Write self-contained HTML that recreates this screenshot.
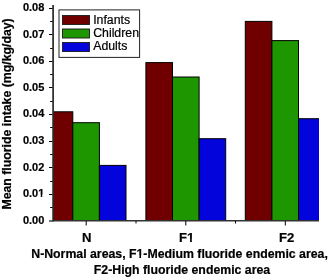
<!DOCTYPE html>
<html><head><meta charset="utf-8">
<style>
html,body{margin:0;padding:0;background:#fff;}
body{width:332px;height:277px;overflow:hidden;position:relative;}
svg{position:absolute;left:0;top:0;}
text{font-family:"Liberation Sans",Arial,sans-serif;font-weight:bold;fill:#000;stroke:#000;stroke-width:0.2;}
</style></head><body>
<svg width="332" height="277" viewBox="0 0 332 277">
<defs><clipPath id="pc"><rect x="53" y="0" width="266" height="221"/></clipPath></defs>
<g clip-path="url(#pc)" stroke="#000" stroke-width="1">
<rect x="46.2" y="111.8" width="26.6" height="109.2" fill="#700000"/>
<rect x="72.8" y="122.7" width="26.6" height="98.3" fill="#1e9600"/>
<rect x="99.4" y="165.4" width="26.6" height="55.6" fill="#0303dc"/>
<rect x="145.9" y="62.6" width="26.6" height="158.4" fill="#700000"/>
<rect x="172.5" y="77.0" width="26.6" height="144.0" fill="#1e9600"/>
<rect x="199.1" y="138.7" width="26.6" height="82.3" fill="#0303dc"/>
<rect x="245.3" y="21.4" width="26.6" height="199.6" fill="#700000"/>
<rect x="271.9" y="40.6" width="26.6" height="180.4" fill="#1e9600"/>
<rect x="298.5" y="118.7" width="26.6" height="102.3" fill="#0303dc"/>
</g>
<g stroke="#000" stroke-width="1.4" fill="none">
<line x1="53.1" y1="5" x2="53.1" y2="221.6" stroke-width="1.7" stroke="#2a2a2a"/>
<line x1="52.5" y1="220.8" x2="319" y2="220.8" stroke-width="1.6" stroke="#333"/>
</g>
<g stroke="#000" stroke-width="1">
<line x1="49" y1="8.5" x2="52.5" y2="8.5"/>
<line x1="50.2" y1="21.5" x2="52.5" y2="21.5"/>
<line x1="49" y1="34.5" x2="52.5" y2="34.5"/>
<line x1="50.2" y1="48.5" x2="52.5" y2="48.5"/>
<line x1="49" y1="61.5" x2="52.5" y2="61.5"/>
<line x1="50.2" y1="74.5" x2="52.5" y2="74.5"/>
<line x1="49" y1="87.5" x2="52.5" y2="87.5"/>
<line x1="50.2" y1="101.5" x2="52.5" y2="101.5"/>
<line x1="49" y1="114.5" x2="52.5" y2="114.5"/>
<line x1="50.2" y1="127.5" x2="52.5" y2="127.5"/>
<line x1="49" y1="141.5" x2="52.5" y2="141.5"/>
<line x1="50.2" y1="154.5" x2="52.5" y2="154.5"/>
<line x1="49" y1="167.5" x2="52.5" y2="167.5"/>
<line x1="50.2" y1="181.5" x2="52.5" y2="181.5"/>
<line x1="49" y1="194.5" x2="52.5" y2="194.5"/>
<line x1="50.2" y1="207.5" x2="52.5" y2="207.5"/>
<line x1="49" y1="221" x2="52.5" y2="221" stroke-width="1.1"/>
<line x1="86.2" y1="221" x2="86.2" y2="225.5"/>
<line x1="185.8" y1="221" x2="185.8" y2="225.5"/>
<line x1="285.3" y1="221" x2="285.3" y2="225.5"/>
<line x1="136" y1="221" x2="136" y2="223.5"/>
<line x1="235.5" y1="221" x2="235.5" y2="223.5"/>
</g>
<rect x="59" y="9.9" width="80.6" height="47.5" fill="#fff" stroke="#222" stroke-width="1"/>
<rect x="62.5" y="15.5" width="27" height="9" fill="#700000" stroke="#1a1a1a" stroke-width="0.9"/>
<rect x="62.5" y="29" width="27" height="9" fill="#1e9600" stroke="#1a1a1a" stroke-width="0.9"/>
<rect x="62.5" y="42.5" width="27" height="9" fill="#0303dc" stroke="#1a1a1a" stroke-width="0.9"/>
<g style="font-size:12.3px;font-weight:normal;stroke:#000;stroke-width:0.3">
<text x="93.2" y="24.1" style="font-weight:normal">Infants</text>
<text x="93.2" y="37.4" style="font-weight:normal">Children</text>
<text x="93.2" y="50.4" style="font-weight:normal">Adults</text>
</g>
<g style="font-size:11px" text-anchor="end">
<text x="44.3" y="11.0">0.08</text>
<text x="44.3" y="37.6">0.07</text>
<text x="44.3" y="64.2">0.06</text>
<text x="44.3" y="90.8">0.05</text>
<text x="44.3" y="117.4">0.04</text>
<text x="44.3" y="144.0">0.03</text>
<text x="44.3" y="170.6">0.02</text>
<text x="44.3" y="197.2">0.01</text>
<text x="44.3" y="223.8">0.00</text>
</g>
<g style="font-size:13.1px" text-anchor="middle">
<text x="86.7" y="241.5">N</text>
<text x="186.65" y="241.5">F1</text>
<text x="286.65" y="241.5">F2</text>
</g>
<text transform="translate(11.0,113.95) rotate(-90)" text-anchor="middle" style="font-size:12.3px">Mean fluoride intake (mg/kg/day)</text>
<g style="font-size:12.3px" text-anchor="middle">
<text x="179.55" y="258.1">N-Normal areas, F1-Medium fluoride endemic area,</text>
<text x="182.0" y="274.0">F2-High fluoride endemic area</text>
</g>
<g fill="#fff">
<rect x="37.85" y="194.68" width="2.87" height="3.52"/>
<rect x="42.24" y="194.68" width="2.73" height="3.52"/>
<rect x="186.82" y="238.76" width="3.23" height="3.74"/>
<rect x="191.85" y="238.76" width="3.07" height="3.74"/>
<rect x="136.26" y="255.44" width="3.10" height="3.66"/>
<rect x="141.05" y="255.44" width="2.94" height="3.66"/>
</g>
</svg>
</body></html>
